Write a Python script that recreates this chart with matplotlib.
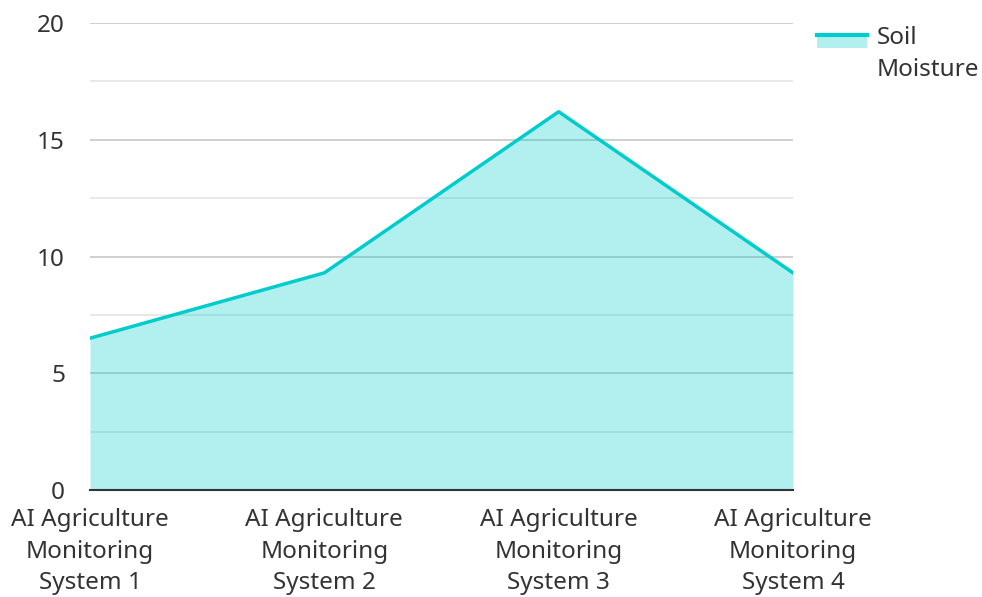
import matplotlib.pyplot as plt
from matplotlib.patches import Rectangle
from matplotlib.lines import Line2D
from matplotlib.ticker import MultipleLocator

plt.rcParams['font.family'] = ['Noto Sans', 'DejaVu Sans']

categories = ['AI Agriculture\nMonitoring\nSystem 1', 'AI Agriculture\nMonitoring\nSystem 2',
              'AI Agriculture\nMonitoring\nSystem 3', 'AI Agriculture\nMonitoring\nSystem 4']
soil_moisture = [6.5, 9.3, 16.2, 9.3]
series_name = 'Soil\nMoisture'

line_color = '#00cccc'
text_color = '#333333'
W, H = 982, 597

fig = plt.figure(figsize=(W / 100, H / 100), dpi=100)
ax = fig.add_axes([90 / W, 107 / H, 703 / W, 467 / H])

x = list(range(len(categories)))
ax.fill_between(x, soil_moisture, 0, color=line_color, alpha=0.3, linewidth=0, zorder=2)
ax.plot(x, soil_moisture, color=line_color, linewidth=2.5, zorder=3)

ax.set_xlim(0, len(categories) - 1)
ax.set_ylim(0, 20)
ax.yaxis.set_major_locator(MultipleLocator(5))
ax.yaxis.set_minor_locator(MultipleLocator(2.5))
ax.grid(True, axis='y', which='major', color='#cccccc', linewidth=1.3, zorder=1)
ax.grid(True, axis='y', which='minor', color='#e6e6e6', linewidth=1.3, zorder=1)
ax.set_axisbelow(True)

ax.set_xticks(x)
ax.set_xticklabels(categories, fontsize=17.5, color=text_color, linespacing=1.42)
ax.tick_params(axis='x', length=0, pad=13)
ax.tick_params(axis='y', which='both', length=0, pad=18, labelsize=17.5, labelcolor=text_color)

for side in ['top', 'right', 'left']:
    ax.spines[side].set_visible(False)
ax.spines['bottom'].set_color('#333333')
ax.spines['bottom'].set_linewidth(1.5)
ax.spines['bottom'].set_zorder(4)

# legend drawn by hand in figure pixels
fig.patches.append(Rectangle((817 / W, 1 - 48 / H), 50 / W, 14 / H, transform=fig.transFigure,
                             facecolor=line_color, alpha=0.3, linewidth=0))
fig.lines.append(Line2D([817 / W, 867 / W], [1 - 35 / H, 1 - 35 / H], transform=fig.transFigure,
                        color=line_color, linewidth=3))
fig.text(877 / W, 1 - 26 / H, series_name, fontsize=17.5, color=text_color, va='top',
         ha='left', linespacing=1.42)

fig.savefig('out.png', dpi=100)
